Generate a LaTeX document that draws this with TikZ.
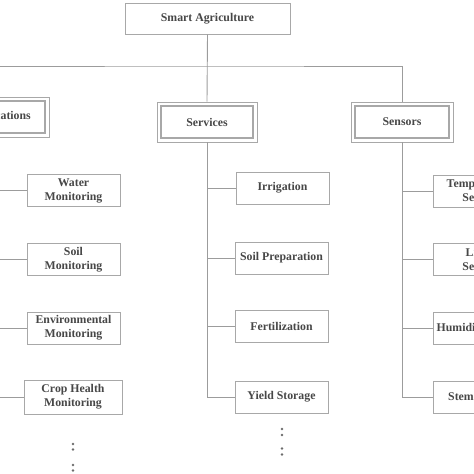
\documentclass[tikz,border=0pt]{standalone}
\usepackage{fontspec}
\setmainfont{Liberation Serif}
\definecolor{linegray}{HTML}{9C9C9C}
\definecolor{boxgray}{HTML}{A8A8A8}
\definecolor{textgray}{HTML}{474747}
\tikzset{
  leaf/.style={draw=boxgray, line width=0.8pt, fill=white, minimum width=93pt, minimum height=32pt,
    align=center, inner sep=1pt, text=textgray, font=\bfseries\fontsize{11.8}{14}\selectfont},
  inner/.style={draw=boxgray, line width=1.8pt},
  conn/.style={draw=linegray, line width=0.9pt},
  dotmark/.style={circle, fill=textgray!80, inner sep=0pt, minimum size=2.6pt},
}
\begin{document}
\begin{tikzpicture}[x=1pt,y=-1pt]
\useasboundingbox (0,0) rectangle (474,474);
\clip (0,0) rectangle (474,474);
% root
\node[leaf, minimum width=165pt, minimum height=31pt] (sa) at (207.5,18.5) {Smart Agriculture};
% categories (triple frame)
\node[leaf, minimum width=100pt, minimum height=40pt] (app) at (-1,117) {Applications};
\node[leaf, minimum width=100pt, minimum height=40pt] (srv) at (207,122) {Services};
\node[leaf, minimum width=102pt, minimum height=40pt] (sen) at (402,122) {Sensors};
\foreach \n in {app,srv,sen}{
  \draw[inner] ([shift={(4.5pt,-4.5pt)}]\n.north west) rectangle ([shift={(-4.5pt,4.5pt)}]\n.south east);
}
% application leaves
\node[leaf] (wm) at (73.5,190.5) {Water\\Monitoring};
\node[leaf] (sm) at (73.5,259.5) {Soil\\Monitoring};
\node[leaf] (em) at (73.5,328) {Environmental\\Monitoring};
\node[leaf, minimum width=98pt, minimum height=34pt] (ch) at (73,397) {Crop Health\\Monitoring};
% service leaves
\node[leaf] (ir) at (282.5,188) {Irrigation};
\node[leaf] (sp) at (281.5,258) {Soil Preparation};
\node[leaf] (fe) at (281.5,326) {Fertilization};
\node[leaf] (ys) at (281.5,397) {Yield Storage};
% sensor leaves
\node[leaf] (ts) at (479.5,191) {Temperature\\Sensor};
\node[leaf] (ls) at (479.5,259.5) {Light\\Sensor};
\node[leaf] (hs) at (479.5,328.5) {Humidity Sensor};
\node[leaf] (ss) at (479.5,397) {Stem Sensor};
% connectors
\coordinate (bus) at (207.5,66);
\draw[conn] (sa.south) -- (srv.north);
\draw[conn] (app.north) |- (bus) -| (sen.north);
\draw[conn] (app.south) |- (wm.west);
\draw[conn] (app.south) |- (sm.west);
\draw[conn] (app.south) |- (em.west);
\draw[conn] (app.south) |- (ch.west);
\draw[conn] (srv.south) |- (ir.west);
\draw[conn] (srv.south) |- (sp.west);
\draw[conn] (srv.south) |- (fe.west);
\draw[conn] (srv.south) |- (ys.west);
\draw[conn] (sen.south) |- (ts.west);
\draw[conn] (sen.south) |- (ls.west);
\draw[conn] (sen.south) |- (hs.west);
\draw[conn] (sen.south) |- (ss.west);
% continuation dots
\node[dotmark] (a1) at (73,444) {};
\node[dotmark] (a2) at (73,449.5) {};
\node[dotmark] (a3) at (73,465) {};
\node[dotmark] (a4) at (73,470.5) {};
\node[dotmark] (b1) at (282,429) {};
\node[dotmark] (b2) at (282,435) {};
\node[dotmark] (b3) at (282,448.5) {};
\node[dotmark] (b4) at (282,454.5) {};
\end{tikzpicture}
\end{document}
